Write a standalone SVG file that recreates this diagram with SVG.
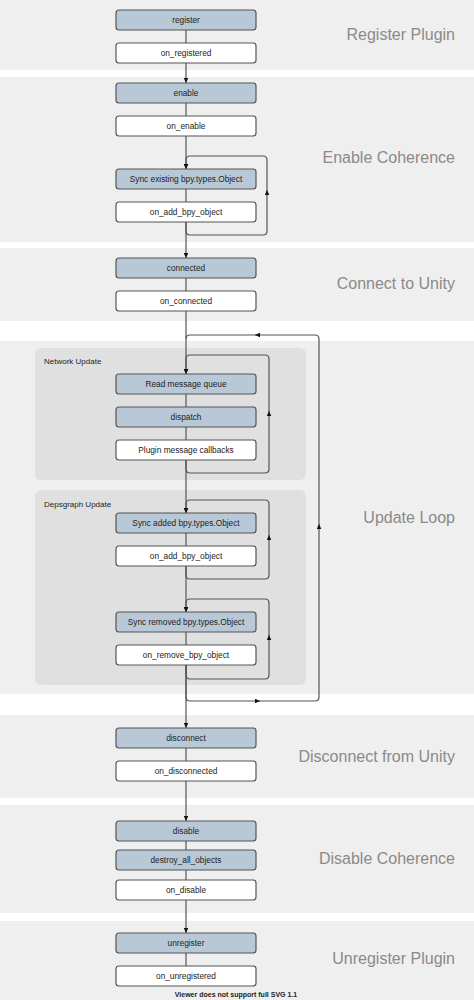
<svg xmlns="http://www.w3.org/2000/svg" width="474" height="1000" viewBox="0 0 474 1000">
<style>
.band{fill:#efefef}
.panel{fill:#e0e0e0}
.act{fill:#b9c8d6;stroke:#555;stroke-width:1.2}
.cb{fill:#fff;stroke:#555;stroke-width:1.2}
.nt{font-family:"Liberation Sans",Arial,sans-serif;font-size:8.3px;fill:#222;text-anchor:middle}
.pt{font-family:"Liberation Sans",Arial,sans-serif;font-size:8px;fill:#222}
.st{font-family:"Liberation Sans",Arial,sans-serif;font-size:16px;fill:#8a8a8a;text-anchor:end}
.ln{fill:none;stroke:#555;stroke-width:1.2}
.lna{fill:none;stroke:#555;stroke-width:1.2;marker-end:url(#ah)}
</style>
<defs>
<marker id="ah" viewBox="0 0 10 10" refX="10" refY="5" markerWidth="6" markerHeight="5" markerUnits="userSpaceOnUse" orient="auto">
<path d="M0 0.5 L10 5 L0 9.5 Z" fill="#111"/>
</marker>
</defs>
<g id="sections">
<rect class="band" x="0" y="0" width="474" height="70"/>
<rect class="band" x="0" y="77" width="474" height="165"/>
<rect class="band" x="0" y="248" width="474" height="73"/>
<rect class="band" x="0" y="341" width="474" height="353"/>
<rect class="band" x="0" y="715" width="474" height="83"/>
<rect class="band" x="0" y="805" width="474" height="108"/>
<rect class="band" x="0" y="921" width="474" height="79"/>
<text class="st" x="455" y="40">Register Plugin</text>
<text class="st" x="455" y="163">Enable Coherence</text>
<text class="st" x="455" y="289">Connect to Unity</text>
<text class="st" x="455" y="523">Update Loop</text>
<text class="st" x="455" y="762">Disconnect from Unity</text>
<text class="st" x="455" y="864">Disable Coherence</text>
<text class="st" x="455" y="964">Unregister Plugin</text>
</g>
<g id="panels">
<rect class="panel" x="35" y="348" width="271" height="132" rx="6"/>
<text class="pt" x="44" y="364">Network Update</text>
<rect class="panel" x="35" y="490" width="271" height="195" rx="6"/>
<text class="pt" x="44" y="507">Depsgraph Update</text>
</g>
<g id="connectors">
<path class="ln" d="M186 30 V43"/>
<path class="lna" d="M186 63 V83"/>
<path class="ln" d="M186 103 V116"/>
<path class="lna" d="M186 136 V169"/>
<path class="ln" d="M186 189 V202"/>
<path class="lna" d="M186 222 V258"/>
<path class="lna" d="M186 222 V231 Q186 235 190 235 H263 Q267 235 267 231 V190"/>
<path class="lna" d="M267 191 V160 Q267 156 263 156 H190 Q186 156 186 160 V169"/>
<path class="ln" d="M186 278 V291"/>
<path class="lna" d="M186 311 V374"/>
<path class="ln" d="M186 394 V407"/>
<path class="ln" d="M186 427 V440"/>
<path class="lna" d="M186 460 V469 Q186 473 190 473 H265 Q269 473 269 469 V411"/>
<path class="lna" d="M269 412 V359 Q269 355 265 355 H190 Q186 355 186 359 V374"/>
<path class="lna" d="M186 460 V513"/>
<path class="ln" d="M186 533 V546"/>
<path class="lna" d="M186 566 V575 Q186 579 190 579 H265 Q269 579 269 575 V535"/>
<path class="lna" d="M269 536 V504 Q269 500 265 500 H190 Q186 500 186 504 V513"/>
<path class="lna" d="M186 566 V612"/>
<path class="ln" d="M186 632 V645"/>
<path class="lna" d="M186 665 V675 Q186 679 190 679 H265 Q269 679 269 675 V635"/>
<path class="lna" d="M269 636 V603 Q269 599 265 599 H190 Q186 599 186 603 V612"/>
<path class="lna" d="M186 665 V697 Q186 701 190 701 H260"/>
<path class="lna" d="M259 701 H315 Q319 701 319 697 V524"/>
<path class="lna" d="M319 525 V339 Q319 335 315 335 H255"/>
<path class="ln" d="M256 335 H190 Q186 335 186 339"/>
<path class="lna" d="M186 665 V728"/>
<path class="ln" d="M186 748 V761"/>
<path class="lna" d="M186 781 V821"/>
<path class="ln" d="M186 841 V850"/>
<path class="ln" d="M186 870 V880"/>
<path class="lna" d="M186 900 V933"/>
<path class="ln" d="M186 953 V966"/>
</g>
<g id="n-register"><rect class="act" x="116" y="10" width="140" height="20" rx="3"/><text class="nt" x="186" y="23">register</text></g>
<g id="n-on_registered"><rect class="cb" x="116" y="43" width="140" height="20" rx="3"/><text class="nt" x="186" y="56">on_registered</text></g>
<g id="n-enable"><rect class="act" x="116" y="83" width="140" height="20" rx="3"/><text class="nt" x="186" y="96">enable</text></g>
<g id="n-on_enable"><rect class="cb" x="116" y="116" width="140" height="20" rx="3"/><text class="nt" x="186" y="129">on_enable</text></g>
<g id="n-sync_existing"><rect class="act" x="116" y="169" width="140" height="20" rx="3"/><text class="nt" x="186" y="182">Sync existing bpy.types.Object</text></g>
<g id="n-on_add_1"><rect class="cb" x="116" y="202" width="140" height="20" rx="3"/><text class="nt" x="186" y="215">on_add_bpy_object</text></g>
<g id="n-connected"><rect class="act" x="116" y="258" width="140" height="20" rx="3"/><text class="nt" x="186" y="271">connected</text></g>
<g id="n-on_connected"><rect class="cb" x="116" y="291" width="140" height="20" rx="3"/><text class="nt" x="186" y="304">on_connected</text></g>
<g id="n-read_queue"><rect class="act" x="116" y="374" width="140" height="20" rx="3"/><text class="nt" x="186" y="387">Read message queue</text></g>
<g id="n-dispatch"><rect class="act" x="116" y="407" width="140" height="20" rx="3"/><text class="nt" x="186" y="420">dispatch</text></g>
<g id="n-plugin_cb"><rect class="cb" x="116" y="440" width="140" height="20" rx="3"/><text class="nt" x="186" y="453">Plugin message callbacks</text></g>
<g id="n-sync_added"><rect class="act" x="116" y="513" width="140" height="20" rx="3"/><text class="nt" x="186" y="526">Sync added bpy.types.Object</text></g>
<g id="n-on_add_2"><rect class="cb" x="116" y="546" width="140" height="20" rx="3"/><text class="nt" x="186" y="559">on_add_bpy_object</text></g>
<g id="n-sync_removed"><rect class="act" x="116" y="612" width="140" height="20" rx="3"/><text class="nt" x="186" y="625">Sync removed bpy.types.Object</text></g>
<g id="n-on_remove"><rect class="cb" x="116" y="645" width="140" height="20" rx="3"/><text class="nt" x="186" y="658">on_remove_bpy_object</text></g>
<g id="n-disconnect"><rect class="act" x="116" y="728" width="140" height="20" rx="3"/><text class="nt" x="186" y="741">disconnect</text></g>
<g id="n-on_disconnected"><rect class="cb" x="116" y="761" width="140" height="20" rx="3"/><text class="nt" x="186" y="774">on_disconnected</text></g>
<g id="n-disable"><rect class="act" x="116" y="821" width="140" height="20" rx="3"/><text class="nt" x="186" y="834">disable</text></g>
<g id="n-destroy"><rect class="act" x="116" y="850" width="140" height="20" rx="3"/><text class="nt" x="186" y="863">destroy_all_objects</text></g>
<g id="n-on_disable"><rect class="cb" x="116" y="880" width="140" height="20" rx="3"/><text class="nt" x="186" y="893">on_disable</text></g>
<g id="n-unregister"><rect class="act" x="116" y="933" width="140" height="20" rx="3"/><text class="nt" x="186" y="946">unregister</text></g>
<g id="n-on_unregistered"><rect class="cb" x="116" y="966" width="140" height="20" rx="3"/><text class="nt" x="186" y="979">on_unregistered</text></g>
<text x="236" y="997" font-family="Liberation Sans,Arial,sans-serif" font-size="7px" font-weight="bold" fill="#222" text-anchor="middle">Viewer does not support full SVG 1.1</text>
</svg>
